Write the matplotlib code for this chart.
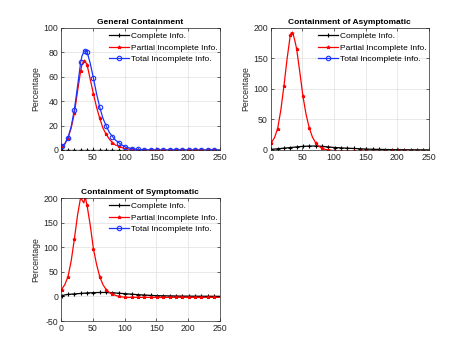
import matplotlib
matplotlib.use('Agg')
import matplotlib.pyplot as plt

plt.rcParams['font.family'] = ['Liberation Sans', 'DejaVu Sans']
plt.rcParams['font.size'] = 6
plt.rcParams['axes.unicode_minus'] = False

# day index of every sample (markers on 1, 11, 21, ... plus the peak)
days = [1, 6, 11, 16, 21, 26, 31, 33, 36, 38, 41, 46, 51, 56, 61, 66, 71, 76, 81, 86,
        91, 96, 101, 106, 111, 116, 121, 131, 141, 151, 161, 171, 181, 191, 201, 211,
        221, 231, 241, 250]

series_names = ['Complete Info.', 'Partial Incomplete Info.', 'Total Incomplete Info.']
titles = ['General Containment', 'Containment of Asymptomatic', 'Containment of Symptomatic']

# General containment
gen_complete = [0.0] * 40
gen_partial = [3, 5, 10, 18, 30, 48, 65, 70, 73, 72.5, 70, 58, 46, 35, 26, 18, 13, 9, 6, 4,
               3, 2, 1, 0.7, 0.5, 0.3, 0.2, 0.1, 0, 0, 0, 0, 0, 0, 0, 0, 0, 0, 0, 0]
gen_total = [3, 5, 10, 19, 33, 52, 72, 77, 80.5, 81.5, 80.5, 71, 59, 46, 35, 26, 20, 14.5, 11, 8,
             6, 4, 2.5, 1.8, 1.2, 0.8, 0.5, 0.2, 0.1, 0, 0, 0, 0, 0, 0, 0, 0, 0, 0, 0]

# Containment of asymptomatic
asym_complete = [1, 1.5, 2, 2.5, 3, 3.5, 4, 4.2, 4.5, 4.7, 5, 5.5, 6, 6.2, 6.5, 6.5, 6.5, 6.2, 6, 5.5,
                 5, 4.5, 4, 3.8, 3.5, 3.2, 3, 2.5, 2, 1.5, 1.2, 1, 0.8, 0.6, 0.5, 0.4, 0.3, 0.3, 0.2, 0.2]
asym_partial = [12, 20, 35, 65, 105, 150, 188, 192.5, 188, 180, 166, 128, 88, 58, 36, 21, 12, 6, 3, 1,
                0, -0.5, -1, -1, -1, -1, -1, -1, -1, -1, -1, -1, -1, -1, -1, -1, -1, -1, -1, -1]

# Containment of symptomatic
sym_complete = [1, 3, 4, 4.5, 5, 5.5, 6, 6.2, 6.5, 6.7, 7, 7.3, 7.5, 7.8, 8, 8, 8, 7.7, 7.5, 7,
                6.5, 6, 5.5, 5, 4.5, 4, 3.5, 2.8, 2, 1.5, 1.2, 1, 0.8, 0.6, 0.5, 0.4, 0.3, 0.3, 0.2, 0.2]
sym_partial = [14, 24, 40, 72, 116, 165, 202, 196, 190, 203, 185, 145, 97, 65, 40, 24, 14, 8, 5, 2,
               0, -1, -2, -2, -2, -2, -2, -2, -2, -2, -2, -2, -2, -2, -2, -2, -2, -2, -2, -2]


def marks(peak=None):
    return [i for i, d in enumerate(days) if (d <= 241 and (d - 1) % 10 == 0) or d == peak]


fig = plt.figure(figsize=(4.74, 3.61), dpi=100)
ax1 = fig.add_axes([0.1287, 0.5845, 0.335, 0.338])
ax2 = fig.add_axes([0.571, 0.5845, 0.334, 0.338])
ax3 = fig.add_axes([0.1287, 0.1108, 0.335, 0.3407])

gray = (0.15, 0.15, 0.15)
blue = (0.1, 0.2, 1.0)


def draw(ax, title, complete, partial, total, p_peak, t_peak, ylim, yticks):
    ax.plot(days, complete, '-+', color='k', lw=0.9, ms=3.5, mew=0.8,
            markevery=marks(), label=series_names[0])
    ax.plot(days, partial, '-*', color='r', lw=0.9, ms=2.5, mew=0.6,
            markevery=marks(p_peak), label=series_names[1])
    if total is not None:
        ax.plot(days, total, '-o', color=blue, lw=0.9, ms=3.2, mew=0.8, mfc='none',
                markevery=marks(t_peak), label=series_names[2])
    else:
        # series not drawn in this panel, still listed in the legend
        ax.plot([], [], '-o', color=blue, lw=0.9, ms=3.2, mew=0.8, mfc='none',
                label=series_names[2])
    ax.set_xlim(0, 250)
    ax.set_ylim(*ylim)
    ax.set_xticks([0, 50, 100, 150, 200, 250])
    ax.set_yticks(yticks)
    ax.grid(True, color=(0.88, 0.88, 0.88), lw=0.5)
    ax.set_axisbelow(True)
    for s in ax.spines.values():
        s.set_color(gray)
        s.set_linewidth(0.5)
    ax.tick_params(direction='in', length=2, width=0.5, colors=gray, labelsize=6.3, pad=2,
                   top=True, right=True)
    ax.set_title(title, fontsize=6, fontweight='bold', pad=3)
    ax.set_ylabel('Percentage', fontsize=6.3, color=gray, labelpad=2)
    ax.legend(loc='upper right', bbox_to_anchor=(0.995, 0.98), borderaxespad=0, borderpad=0.2,
              frameon=False, fontsize=6, handlelength=2.4, handletextpad=0.2, labelspacing=0.45)


draw(ax1, titles[0], gen_complete, gen_partial, gen_total, 36, 38, (0, 100), [0, 20, 40, 60, 80, 100])
draw(ax2, titles[1], asym_complete, asym_partial, None, 33, None, (0, 200), [0, 50, 100, 150, 200])
draw(ax3, titles[2], sym_complete, sym_partial, None, 38, None, (-50, 200), [-50, 0, 50, 100, 150, 200])

plt.savefig('out.png', dpi=100)
